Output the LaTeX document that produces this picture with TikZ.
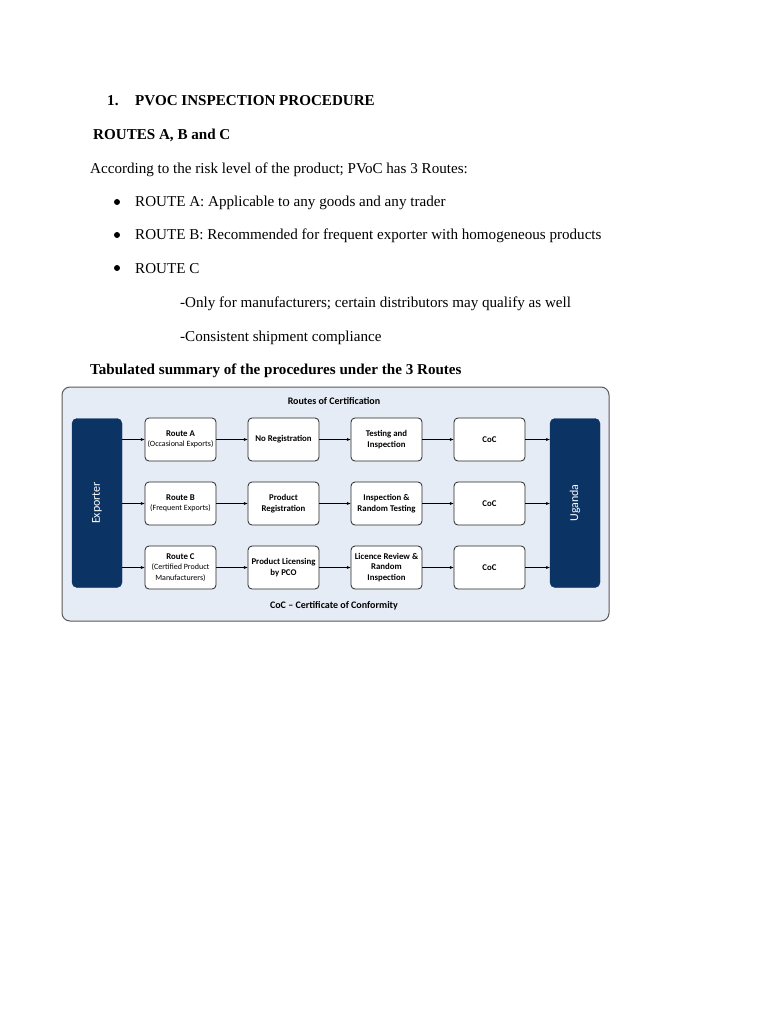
\documentclass[tikz,border=0pt]{standalone}
\usepackage{fontspec}
\setmainfont{Liberation Serif}
\newfontfamily\diag{Carlito}
\usetikzlibrary{arrows.meta}
\definecolor{navy}{HTML}{0B3363}
\definecolor{panel}{HTML}{E6ECF5}
\tikzset{
  body/.style={anchor=base west, inner sep=0pt, font=\fontsize{15.1}{17}\selectfont},
  bodyb/.style={body, font=\fontsize{15.1}{17}\selectfont\bfseries},
  stepbox/.style={draw=black!85, line width=0.8pt, fill=white, rounded corners=4pt, minimum width=71pt, minimum height=43pt, inner sep=1pt, align=center, font=\diag\fontsize{8}{10.5}\selectfont},
  bar/.style={fill=navy, draw=navy, rounded corners=5pt, minimum width=50pt, minimum height=169pt},
  bartext/.style={text=white, rotate=90, font=\diag\fontsize{12}{14}\selectfont},
  lbl/.style={font=\diag\fontsize{10}{12}\selectfont\bfseries},
  flow/.style={-{Stealth[length=4pt,width=3pt]}, line width=0.6pt, black}
}
\newcommand{\bt}[1]{{\fontsize{8.8}{10.5}\selectfont\bfseries #1}}
\begin{document}
\begin{tikzpicture}[x=1pt,y=-1pt]
\useasboundingbox (0,0) rectangle (768,1024);
\fill[white] (0,0) rectangle (768,1024);
% text
\node[bodyb] (n1) at (107,106) {1.};
\node[bodyb] (t1) at (135,106) {PVOC INSPECTION PROCEDURE};
\node[bodyb] (t2) at (93,140) {ROUTES A, B and C};
\node[body] (t3) at (90,174) {According to the risk level of the product; PVoC has 3 Routes:};
\foreach \yy/\tx [count=\i] in {207/{ROUTE A: Applicable to any goods and any trader},240/{ROUTE B: Recommended for frequent exporter with homogeneous products},273/{ROUTE C}}{
  \fill (117,\yy-5) circle (3pt);
  \node[body] (b\i) at (135,\yy) {\tx};
}
\node[body] (c1) at (180,307) {-Only for manufacturers; certain distributors may qualify as well};
\node[body] (c2) at (180,341) {-Consistent shipment compliance};
\node[bodyb] (t4) at (90,374) {Tabulated summary of the procedures under the 3 Routes};
% diagram panel
\draw[fill=panel, draw=black!65, line width=1pt, rounded corners=8pt] (62,387) rectangle (609,621);
\node[lbl] (title) at (334,401) {Routes of Certification};
\node[lbl] (foot) at (334,606) {CoC – Certificate of Conformity};
\node[bar] (exp) at (97,503) {};
\node[bartext] at (exp) {Exporter};
\node[bar] (uga) at (575,503) {};
\node[bartext] at (uga) {Uganda};
% row A
\node[stepbox] (a1) at (180.5,439.5) {\bt{Route A}\\(Occasional Exports)};
\node[stepbox] (a2) at (283.5,439.5) {\bt{No Registration}};
\node[stepbox] (a3) at (386.5,439.5) {\bt{Testing and}\\\bt{Inspection}};
\node[stepbox] (a4) at (489.5,439.5) {\bt{CoC}};
% row B
\node[stepbox] (b1x) at (180.5,503.5) {\bt{Route B}\\(Frequent Exports)};
\node[stepbox] (b2x) at (283.5,503.5) {\bt{Product}\\\bt{Registration}};
\node[stepbox] (b3x) at (386.5,503.5) {\bt{Inspection \&}\\\bt{Random Testing}};
\node[stepbox] (b4x) at (489.5,503.5) {\bt{CoC}};
% row C
\node[stepbox] (c1x) at (180.5,567.5) {\bt{Route C}\\(Certified Product\\Manufacturers)};
\node[stepbox] (c2x) at (283.5,567.5) {\bt{Product Licensing}\\\bt{by PCO}};
\node[stepbox] (c3x) at (386.5,567.5) {\bt{Licence Review \&}\\\bt{Random}\\\bt{Inspection}};
\node[stepbox] (c4x) at (489.5,567.5) {\bt{CoC}};
% arrows
\foreach \r in {a1,b1x,c1x}{ \draw[flow] (exp.east |- \r.west) -- (\r.west); }
\draw[flow] (a1) -- (a2); \draw[flow] (a2) -- (a3); \draw[flow] (a3) -- (a4);
\draw[flow] (b1x) -- (b2x); \draw[flow] (b2x) -- (b3x); \draw[flow] (b3x) -- (b4x);
\draw[flow] (c1x) -- (c2x); \draw[flow] (c2x) -- (c3x); \draw[flow] (c3x) -- (c4x);
\foreach \r in {a4,b4x,c4x}{ \draw[flow] (\r.east) -- (uga.west |- \r.east); }
\end{tikzpicture}
\end{document}
